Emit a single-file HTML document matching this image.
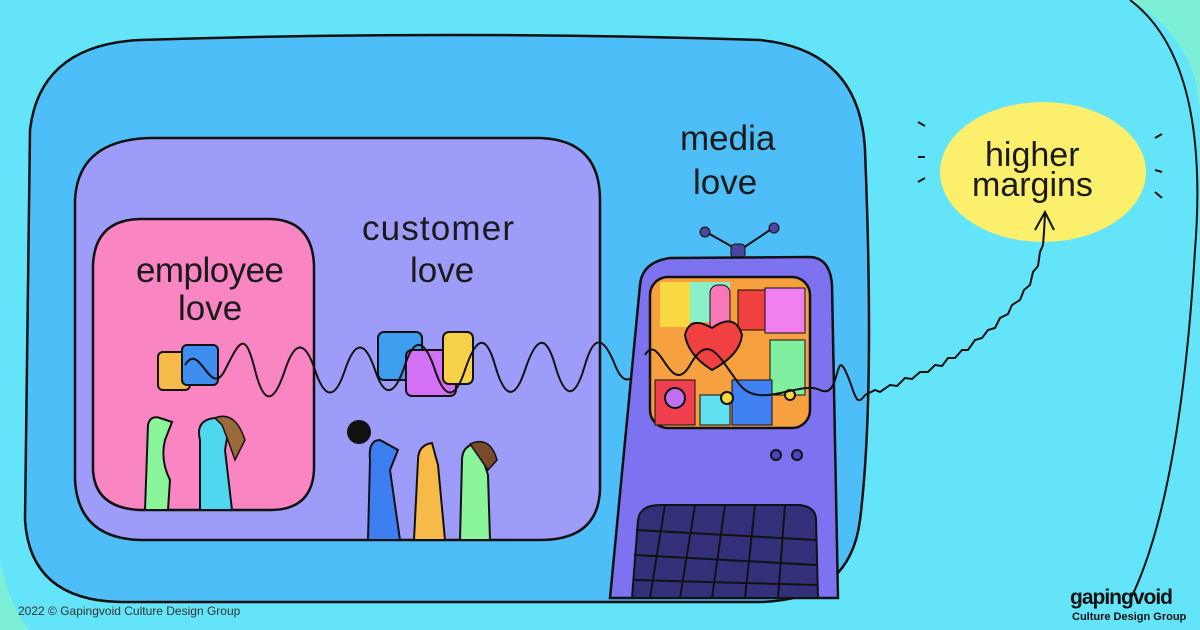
<!DOCTYPE html>
<html><head><meta charset="utf-8"><style>
html,body{margin:0;padding:0;background:#63e4f8;}
svg{display:block}
text{font-family:"Liberation Sans",sans-serif;fill:#1a1a1a}
</style></head><body>
<svg width="1200" height="630" viewBox="0 0 1200 630" xmlns="http://www.w3.org/2000/svg">
<rect width="1200" height="630" fill="#63e4f8"/>
<path d="M1130 0 Q1200 40 1200 120 L1200 0Z" fill="#7cefd6"/>
<path d="M1130 0 Q1210 60 1195 250 Q1180 500 1130 600" fill="none" stroke="#111" stroke-width="2"/>
<path d="M0 560 Q10 610 30 630 L0 630Z" fill="#7cefd6"/>
<path d="M30 130 Q40 45 140 40 Q450 30 760 40 Q860 50 865 150 Q875 400 860 520 Q850 600 760 602 L120 602 Q30 600 25 520 Z" fill="#4ebef8" stroke="#111" stroke-width="2.5"/>
<path d="M75 200 Q78 140 150 138 L540 138 Q600 140 600 200 L600 490 Q598 540 540 540 L140 540 Q78 538 75 480Z" fill="#9d9cf8" stroke="#111" stroke-width="2.5"/>
<path d="M93 265 Q95 220 140 219 L270 219 Q312 220 314 265 L314 470 Q312 510 270 510 L140 510 Q95 508 93 470Z" fill="#f985c2" stroke="#111" stroke-width="2.5"/>
<g style="font-weight:300">
<text x="136" y="282" font-size="35" textLength="148">employee</text>
<text x="178" y="320" font-size="35">love</text>
<text x="362" y="240" font-size="35" textLength="152">customer</text>
<text x="410" y="282" font-size="35">love</text>
<text x="680" y="150" font-size="35">media</text>
<text x="693" y="194" font-size="35">love</text>
</g>
<path d="M145 510 L148 425 Q150 415 160 418 L172 422 L165 440 Q160 460 170 480 L168 510Z" fill="#8af59a" stroke="#111" stroke-width="2"/>
<path d="M200 510 L200 440 Q195 420 215 418 L230 420 L225 450 L232 510Z" fill="#4fd7f0" stroke="#111" stroke-width="2"/>
<path d="M215 418 Q235 410 245 440 L235 460 Q228 440 222 425Z" fill="#9a6a3a" stroke="#111" stroke-width="1.5"/>
<rect x="158" y="352" width="32" height="38" rx="5" fill="#f7b948" stroke="#111" stroke-width="2"/>
<rect x="182" y="345" width="36" height="40" rx="5" fill="#3d8ef0" stroke="#111" stroke-width="2"/>
<path d="M368 540 L370 460 Q368 440 380 440 L398 450 L390 470 L400 540Z" fill="#3d7ef0" stroke="#111" stroke-width="2"/>
<circle cx="359" cy="432" r="12" fill="#111"/>
<path d="M414 540 L418 460 Q418 445 432 443 L438 465 L445 540Z" fill="#f7b948" stroke="#111" stroke-width="2"/>
<path d="M460 540 L462 460 Q462 445 478 443 L488 475 L490 540Z" fill="#8af59a" stroke="#111" stroke-width="2"/>
<path d="M470 444 Q490 435 497 460 L488 470Z" fill="#7a4a2a" stroke="#111" stroke-width="1.5"/>
<rect x="378" y="332" width="44" height="48" rx="6" fill="#3d9ef0" stroke="#111" stroke-width="2"/>
<rect x="406" y="350" width="50" height="46" rx="6" fill="#d470f5" stroke="#111" stroke-width="2"/>
<rect x="443" y="332" width="30" height="52" rx="6" fill="#f7d148" stroke="#111" stroke-width="2"/>
<path d="M185 365 C200 340 210 400 225 370 S245 330 255 370 S275 400 285 370 S305 340 315 370 S335 400 345 370 S365 340 375 370 S395 395 405 365 S425 340 435 370 S455 400 465 370 S485 330 495 365 S515 400 525 370 S545 330 555 365 S575 400 585 365 S605 340 615 365 S635 380 645 355" fill="none" stroke="#111" stroke-width="2"/>
<line x1="738" y1="250" x2="706" y2="232" stroke="#111" stroke-width="2"/>
<line x1="740" y1="250" x2="773" y2="228" stroke="#111" stroke-width="2"/>
<circle cx="705" cy="232" r="5" fill="#4a45a0" stroke="#111"/>
<circle cx="774" cy="228" r="5" fill="#4a45a0" stroke="#111"/>
<rect x="731" y="244" width="14" height="14" rx="4" fill="#4a45a0" stroke="#111"/>
<path d="M610 598 L640 285 Q642 262 670 258 L810 257 Q830 258 832 285 L838 598Z" fill="#7d73f0" stroke="#111" stroke-width="2.5"/>
<rect x="650" y="277" width="160" height="151" rx="18" fill="#f7a040" stroke="#111" stroke-width="2.5"/>
<rect x="660" y="282" width="30" height="45" fill="#fad840"/>
<rect x="690" y="282" width="40" height="40" fill="#8af0c8"/>
<rect x="710" y="285" width="20" height="60" rx="8" fill="#f978b8" stroke="#111"/>
<rect x="738" y="290" width="40" height="40" fill="#f04040" stroke="#111"/>
<rect x="765" y="288" width="40" height="45" fill="#f080f0" stroke="#111"/>
<rect x="770" y="340" width="35" height="55" fill="#80f0a0" stroke="#111"/>
<rect x="655" y="380" width="40" height="45" fill="#f04050" stroke="#111"/>
<rect x="700" y="395" width="30" height="30" fill="#60e0f0" stroke="#111"/>
<rect x="732" y="380" width="40" height="45" fill="#4080f0" stroke="#111"/>
<path d="M685 335 Q690 315 712 328 Q735 312 742 335 Q740 355 712 370 Q688 355 685 335Z" fill="#f04040" stroke="#111" stroke-width="2"/>
<circle cx="675" cy="398" r="10" fill="#c070f0" stroke="#111" stroke-width="2"/>
<circle cx="727" cy="398" r="6" fill="#fad840" stroke="#111" stroke-width="2"/>
<circle cx="790" cy="395" r="5" fill="#fad840" stroke="#111" stroke-width="2"/>
<circle cx="776" cy="455" r="5" fill="#4a45c0" stroke="#111" stroke-width="2"/>
<circle cx="797" cy="455" r="5" fill="#4a45c0" stroke="#111" stroke-width="2"/>
<path d="M632 598 L638 520 Q640 505 660 505 L800 505 Q816 507 816 520 L818 598Z" fill="#33307a" stroke="#111" stroke-width="2"/>
<g stroke="#111" stroke-width="2" fill="none">
<path d="M636 530 L816 540 M634 555 L817 565 M633 580 L818 585"/>
<path d="M665 505 L650 598 M695 505 L680 598 M725 505 L712 598 M755 505 L745 598 M785 505 L778 598"/>
</g>
<ellipse cx="1043" cy="172" rx="103" ry="70" fill="#fbef6c"/>
<path d="M645 355 C660 330 670 400 690 365 S720 360 740 385 S800 380 820 390 S835 350 845 370 S855 410 865 395" fill="none" stroke="#111" stroke-width="2"/>
<polyline points="865,395 875,390 880,392 890,385 897,386 905,378 912,379 920,372 928,372 935,365 942,366 948,358 955,358 962,350 968,350 975,340 982,338 988,330 995,328 1000,318 1008,314 1012,305 1020,300 1024,290 1030,285 1033,272 1038,266 1040,252 1043,245 1044,232 1045,214" fill="none" stroke="#111" stroke-width="2"/>
<path d="M1035 230 L1045 212 L1054 230" fill="none" stroke="#111" stroke-width="2"/>
<g style="font-weight:300">
<text x="985" y="166" font-size="34">higher</text>
<text x="972" y="196" font-size="34">margins</text>
</g>
<g stroke="#111" stroke-width="2"><line x1="918" y1="122" x2="925" y2="126"/><line x1="918" y1="157" x2="925" y2="157"/><line x1="918" y1="182" x2="925" y2="178"/><line x1="1155" y1="138" x2="1162" y2="134"/><line x1="1155" y1="170" x2="1162" y2="172"/><line x1="1155" y1="192" x2="1162" y2="198"/></g>
<text x="18" y="615" font-size="12" style="fill:#333">2022 © Gapingvoid Culture Design Group</text>
<text x="1070" y="604" font-size="21" font-weight="bold" style="fill:#111;letter-spacing:-1px">gapingvoid</text>
<text x="1072" y="620" font-size="11" font-weight="bold" style="fill:#111">Culture Design Group</text>
</svg>
</body></html>
